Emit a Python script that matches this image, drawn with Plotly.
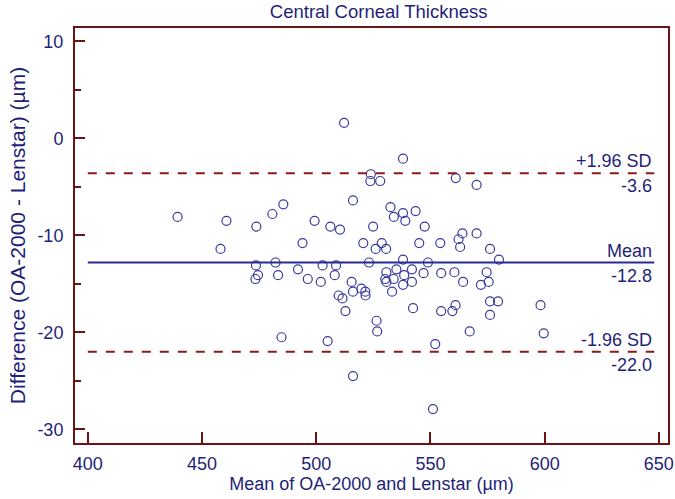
import plotly.graph_objects as go

# Bland-Altman data
mean_um = [
    512.2, 538.0, 523.9, 523.7, 528.0, 561.1, 570.2, 516.1, 532.5, 538.0,
    543.5, 534.0, 539.0, 439.3, 460.7, 480.8, 485.6, 473.8, 499.3, 506.2,
    510.4, 524.9, 547.5, 564.0, 570.2, 562.3, 563.0, 458.1, 494.0, 520.6,
    528.7, 526.0, 530.6, 545.1, 554.3, 576.1, 580.0, 538.0, 523.1, 548.9,
    473.6, 474.5, 473.4, 482.2, 483.3, 492.0, 496.3, 502.0, 502.8, 508.7,
    508.1, 530.7, 535.1, 541.9, 538.5, 530.2, 533.9, 530.7, 538.0, 541.9,
    547.0, 554.7, 560.5, 564.3, 574.6, 575.5, 572.1, 515.5, 516.1, 519.8,
    521.5, 521.6, 509.8, 511.5, 533.2, 512.8, 542.4, 554.7, 559.6, 561.0,
    576.1, 579.6, 576.1, 598.2, 599.6, 526.4, 526.7, 567.2, 484.8, 505.0,
    552.1, 516.1, 551.1,
]
diff_um = [
    1.6, -2.1, -3.7, -4.4, -4.4, -4.1, -4.8, -6.4, -7.1, -7.7,
    -7.5, -8.1, -8.5, -8.1, -8.5, -7.8, -6.8, -9.1, -8.5, -9.1,
    -9.4, -9.1, -9.1, -9.8, -9.8, -10.4, -11.2, -11.4, -10.8, -10.8,
    -10.8, -11.4, -11.4, -10.8, -10.8, -11.4, -12.5, -12.5, -12.8, -12.8,
    -13.1, -14.1, -14.5, -12.8, -14.1, -13.5, -14.5, -14.8, -13.1, -13.1,
    -14.1, -13.8, -13.5, -13.5, -14.1, -14.5, -14.5, -14.8, -15.1, -14.8,
    -13.9, -13.9, -13.8, -14.8, -13.8, -14.8, -15.1, -14.8, -15.8, -15.5,
    -15.8, -16.2, -16.2, -16.5, -15.8, -17.8, -17.5, -17.8, -17.8, -17.2,
    -16.8, -16.8, -18.2, -17.2, -20.1, -18.8, -19.9, -19.9, -20.5, -20.9,
    -21.2, -24.5, -27.9,
]

mean_diff = -12.8
upper_loa = -3.6
lower_loa = -22.0
line_x = [400, 648]

x_ticks = [400, 450, 500, 550, 600, 650]
y_ticks = [10, 0, -10, -20, -30]
y_minor = [5, -5, -15, -25]

navy = "#1f1f7a"
maroon = "#6e1414"
font = "Liberation Sans, Arial, sans-serif"

fig = go.Figure()

fig.add_trace(go.Scatter(
    x=mean_um, y=diff_um, mode="markers",
    marker=dict(symbol="circle-open", size=9, color="#3a3a9e", line=dict(width=1.2)),
    showlegend=False,
))

# mean and limits of agreement
fig.add_trace(go.Scatter(x=line_x, y=[mean_diff] * 2, mode="lines",
                         line=dict(color="#2a2a96", width=2), showlegend=False))
for v in [upper_loa, lower_loa]:
    fig.add_trace(go.Scatter(x=line_x, y=[v] * 2, mode="lines",
                             line=dict(color="#8b1a1a", width=2, dash="dash"),
                             showlegend=False))

labels = [("+1.96 SD", upper_loa), ("Mean", mean_diff), ("-1.96 SD", lower_loa)]
for name, v in labels:
    fig.add_annotation(x=line_x[1], y=v, text=name, showarrow=False,
                       xanchor="right", yanchor="bottom", yshift=0)
    fig.add_annotation(x=line_x[1], y=v, text="%.1f" % v, showarrow=False,
                       xanchor="right", yanchor="top", yshift=-1)

fig.update_layout(
    width=675, height=499,
    margin=dict(l=75, r=7, t=28, b=56),
    paper_bgcolor="white", plot_bgcolor="white",
    font=dict(family=font, size=18, color=navy),
    title=dict(text="Central Corneal Thickness", x=0.561, xref="container",
               xanchor="center", y=1 - 11.5 / 499, yref="container", yanchor="middle",
               font=dict(size=18.5, color=navy)),
)

fig.update_xaxes(
    range=[394.4, 654], tickvals=x_ticks, ticktext=[str(v) for v in x_ticks],
    showgrid=False, zeroline=False, automargin=False,
    showline=True, linecolor=maroon, linewidth=2, mirror=True,
    ticks="inside", ticklen=11, tickwidth=2, tickcolor=maroon,
    ticklabelstandoff=3,
    title=dict(text="Mean of OA-2000 and Lenstar (µm)", standoff=2,
               font=dict(family=font, size=18, color=navy)),
)
fig.update_yaxes(
    range=[-31.4, 11.37], tickvals=y_ticks, ticktext=[str(v) for v in y_ticks],
    showgrid=False, zeroline=False, automargin=False,
    showline=True, linecolor=maroon, linewidth=2, mirror=True,
    ticks="inside", ticklen=10, tickwidth=2, tickcolor=maroon,
    minor=dict(tickvals=y_minor, ticks="inside", ticklen=6,
               tickwidth=2, tickcolor=maroon),
    ticklabelstandoff=6,
    title=dict(text="Difference (OA-2000 - Lenstar) (µm)", standoff=6,
               font=dict(family=font, size=21, color=navy)),
)

# page has a default body margin; drop it so the figure sits at 0,0
fig.write_html("out.html", config={"displayModeBar": False},
               post_script="document.body.style.margin='0';")
